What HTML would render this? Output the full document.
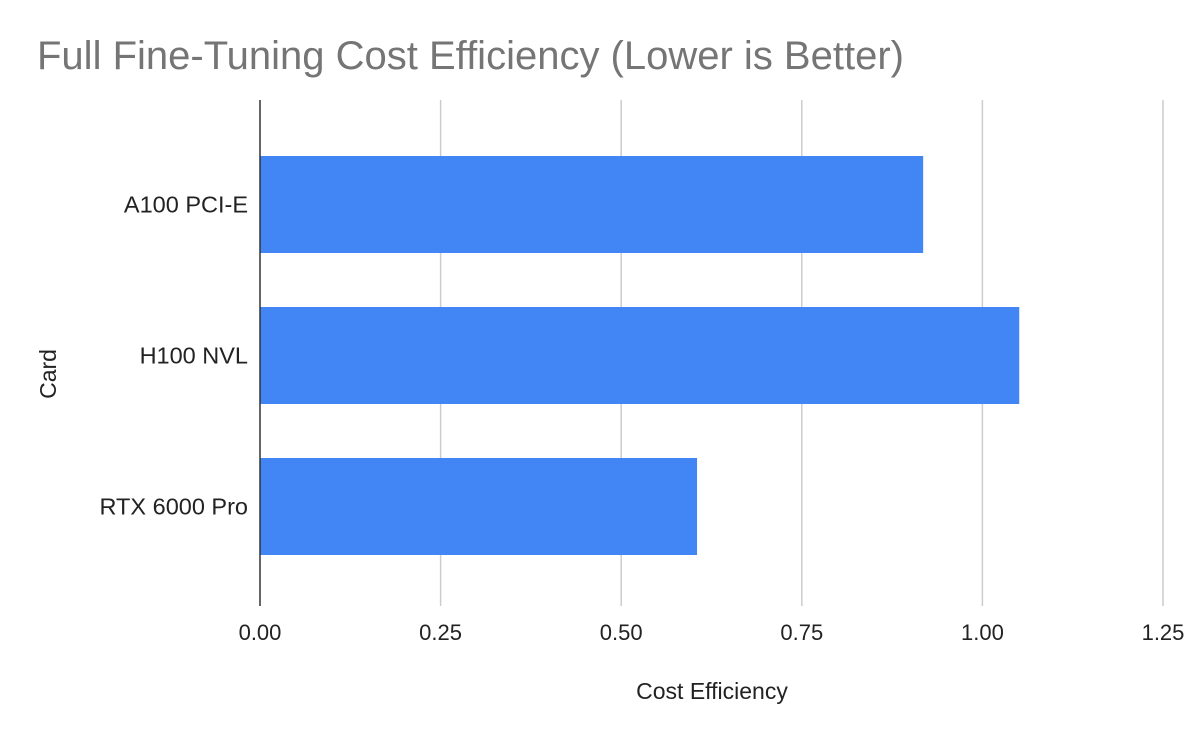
<!DOCTYPE html>
<html><head><meta charset="utf-8"><style>
body{margin:0;background:#fff;}
svg{display:block;font-family:"Liberation Sans",Arial,sans-serif;}
</style></head><body>
<svg id="chart" width="1200" height="742">
<text x="37" y="69" font-size="40" fill="#757575">Full Fine-Tuning Cost Efficiency (Lower is Better)</text>
<g id="grid"></g><g id="bars"></g><g id="xticks"></g><g id="ycats"></g>
<text x="712" y="699" font-size="23" text-anchor="middle" fill="#222">Cost Efficiency</text>
<text transform="translate(56,374) rotate(-90)" font-size="23" text-anchor="middle" fill="#222">Card</text>
</svg>
<script>
const categories=["A100 PCI-E","H100 NVL","RTX 6000 Pro"];
const values=[0.918,1.051,0.605];
const tickValues=[0,0.25,0.5,0.75,1.0,1.25];
const tickLabels=["0.00","0.25","0.50","0.75","1.00","1.25"];
const NS="http://www.w3.org/2000/svg";
const x0=260,x1=1163,xmax=1.25,plotTop=100,plotBottom=606;
const xs=v=>x0+(x1-x0)*v/xmax;
const firstCenter=204.5,step=151,barH=97;
const ys=i=>firstCenter+step*i;
function mk(tag,attrs,parent){const e=document.createElementNS(NS,tag);for(const k in attrs)e.setAttribute(k,attrs[k]);document.getElementById(parent).appendChild(e);return e;}
tickValues.forEach((v,i)=>{
 if(i>0){const g=mk('line',{x1:xs(v),x2:xs(v),y1:plotTop,y2:plotBottom,stroke:'#cccccc','stroke-width':1.5},'grid');
 
 }
 const t=mk('text',{x:xs(v),y:640,'font-size':22,'text-anchor':'middle',fill:'#222'},'xticks');t.textContent=tickLabels[i];
 
 
});
categories.forEach((c,i)=>{
 const cy=ys(i);
 const b=mk('rect',{x:x0,y:cy-barH/2,width:xs(values[i])-x0,height:barH,fill:'#4285f4'},'bars');
 
 
 const t=mk('text',{x:248,y:cy+8,'font-size':23.5,'text-anchor':'end',fill:'#222'},'ycats');t.textContent=c;
 
 
});
const ax=mk('line',{x1:x0,x2:x0,y1:plotTop,y2:plotBottom,stroke:'#333','stroke-width':1.5},'bars');


</script>
</body></html>
